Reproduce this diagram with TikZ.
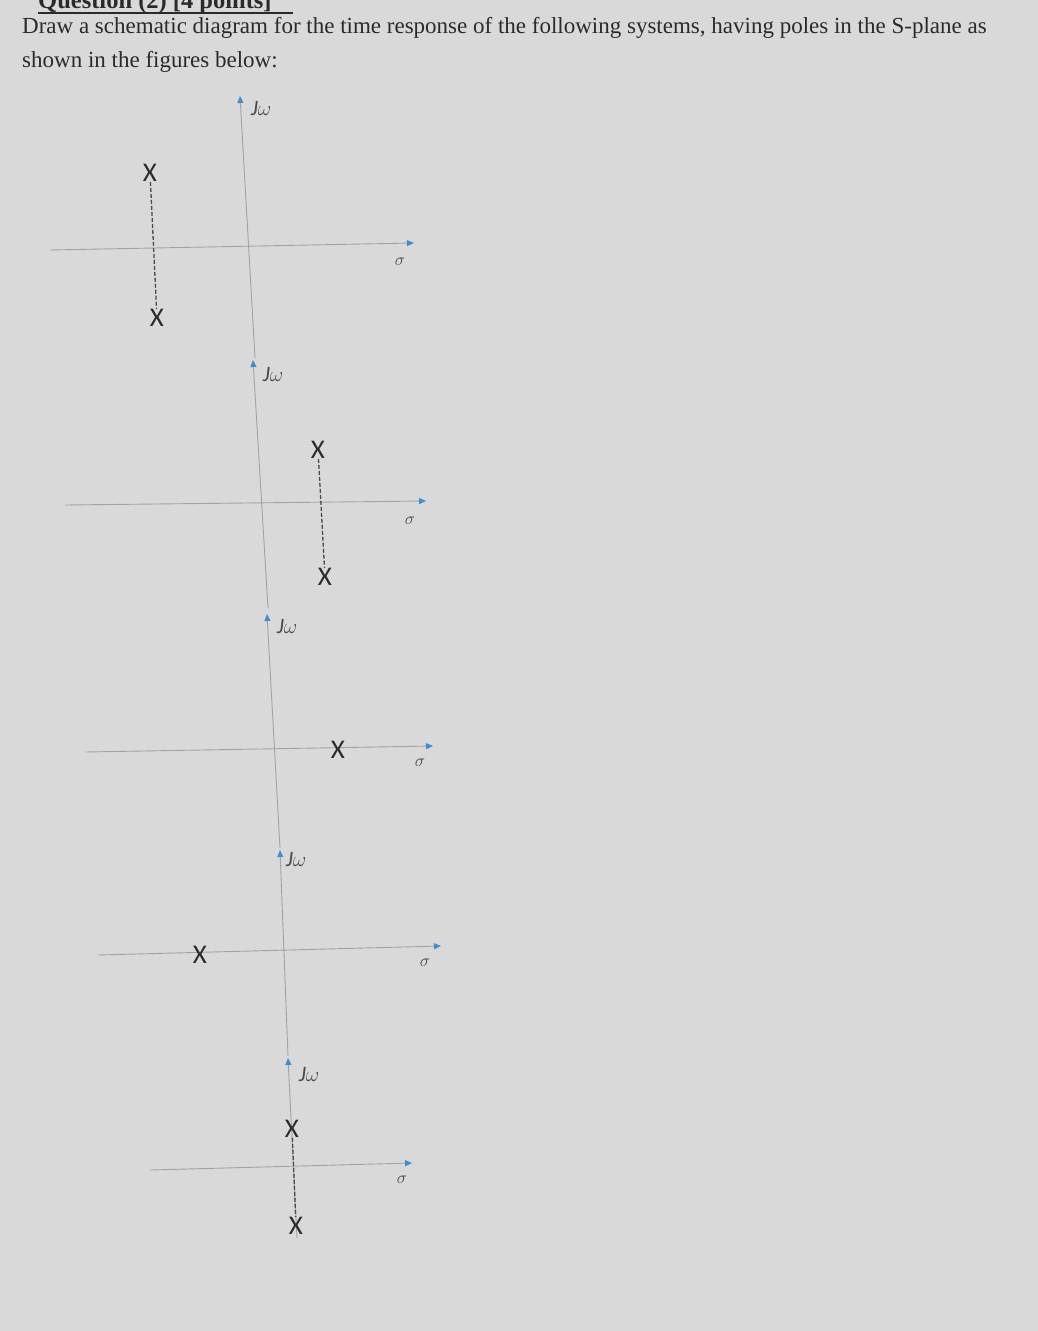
\documentclass[tikz,border=0pt]{standalone}
\usepackage{fontspec}
\setmainfont{Liberation Serif}
\newfontfamily\calfont{Carlito}
\usetikzlibrary{arrows.meta}
\definecolor{bgc}{HTML}{D9D9D9}
\definecolor{axc}{HTML}{A2A2A2}
\definecolor{tipc}{HTML}{3F8FCF}
\definecolor{inkc}{HTML}{2A2A2A}
\tikzset{
  axis/.style={draw=axc, line width=0.9pt, -{Triangle[length=7pt,width=6pt,color=tipc]}},
  pole/.style={font=\calfont\fontsize{27}{27}\selectfont, text=inkc, inner sep=0pt},
  link/.style={draw=inkc!85, line width=1.3pt, dash pattern=on 4pt off 2pt},
  jw/.style={font=\calfont\itshape\fontsize{22}{22}\selectfont, text=inkc!85, inner sep=0pt},
  sg/.style={font=\calfont\itshape\fontsize{17}{17}\selectfont, text=inkc!85, inner sep=0pt},
  body/.style={font=\fontsize{23}{23}\selectfont, text=inkc, inner sep=0pt, anchor=base west}
}
\begin{document}
\begin{tikzpicture}[x=1pt,y=-1pt]
\fill[bgc] (0,0) rectangle (1038,1331);
\useasboundingbox (0,0) rectangle (1038,1331);
\begin{scope}
\clip (0,0) rectangle (1038,1331);
\node[body, font=\bfseries\fontsize{24.5}{24.5}\selectfont] (q) at (38,8) {Question (2) [4 points]};
\draw[inkc, line width=1.6pt] (38,13) -- (293,13);
\end{scope}
\node[body] (t1) at (22,33) {Draw a schematic diagram for the time response of the following systems, having poles in the S-plane as};
\node[body] (t2) at (22,67) {shown in the figures below:};

% Diagram 1
\coordinate (v1b) at (255,358); \coordinate (v1t) at (240,96);
\coordinate (h1l) at (50,250); \coordinate (h1r) at (414,243);
\draw[axis] (v1b) -- (v1t);
\draw[axis] (h1l) -- (h1r);
\node[jw] (jw1) at (261,109) {J$\omega$};
\node[sg] (s1) at (400,262) {$\sigma$};
\node[pole] (p1a) at (150,173) {X};
\node[pole] (p1b) at (157,318) {X};
\draw[link] (p1a) -- (p1b);

% Diagram 2
\coordinate (v2b) at (268,608); \coordinate (v2t) at (253,360);
\coordinate (h2l) at (65,505); \coordinate (h2r) at (426,501);
\draw[axis] (v2b) -- (v2t);
\draw[axis] (h2l) -- (h2r);
\node[jw] (jw2) at (273,375) {J$\omega$};
\node[sg] (s2) at (410,521) {$\sigma$};
\node[pole] (p2a) at (318,450) {X};
\node[pole] (p2b) at (325,577) {X};
\draw[link] (p2a) -- (p2b);

% Diagram 3
\coordinate (v3b) at (280,848); \coordinate (v3t) at (267,614);
\coordinate (h3l) at (85,752); \coordinate (h3r) at (433,746);
\draw[axis] (v3b) -- (v3t);
\draw[axis] (h3l) -- (h3r);
\node[jw] (jw3) at (287,627) {J$\omega$};
\node[sg] (s3) at (420,763) {$\sigma$};
\node[pole] (p3) at (338,750) {X};

% Diagram 4
\coordinate (v4b) at (288,1056); \coordinate (v4t) at (280,850);
\coordinate (h4l) at (98,955); \coordinate (h4r) at (441,946);
\draw[axis] (v4b) -- (v4t);
\draw[axis] (h4l) -- (h4r);
\node[jw] (jw4) at (296,860) {J$\omega$};
\node[sg] (s4) at (425,963) {$\sigma$};
\node[pole] (p4) at (200,955) {X};

% Diagram 5
\coordinate (v5b) at (297,1238); \coordinate (v5t) at (288,1058);
\coordinate (h5l) at (150,1170); \coordinate (h5r) at (412,1163);
\draw[axis] (v5b) -- (v5t);
\draw[axis] (h5l) -- (h5r);
\node[jw] (jw5) at (309,1075) {J$\omega$};
\node[sg] (s5) at (402,1180) {$\sigma$};
\node[pole] (p5a) at (292,1129) {X};
\node[pole] (p5b) at (296,1226) {X};
\draw[link] (p5a) -- (p5b);
\end{tikzpicture}
\end{document}
